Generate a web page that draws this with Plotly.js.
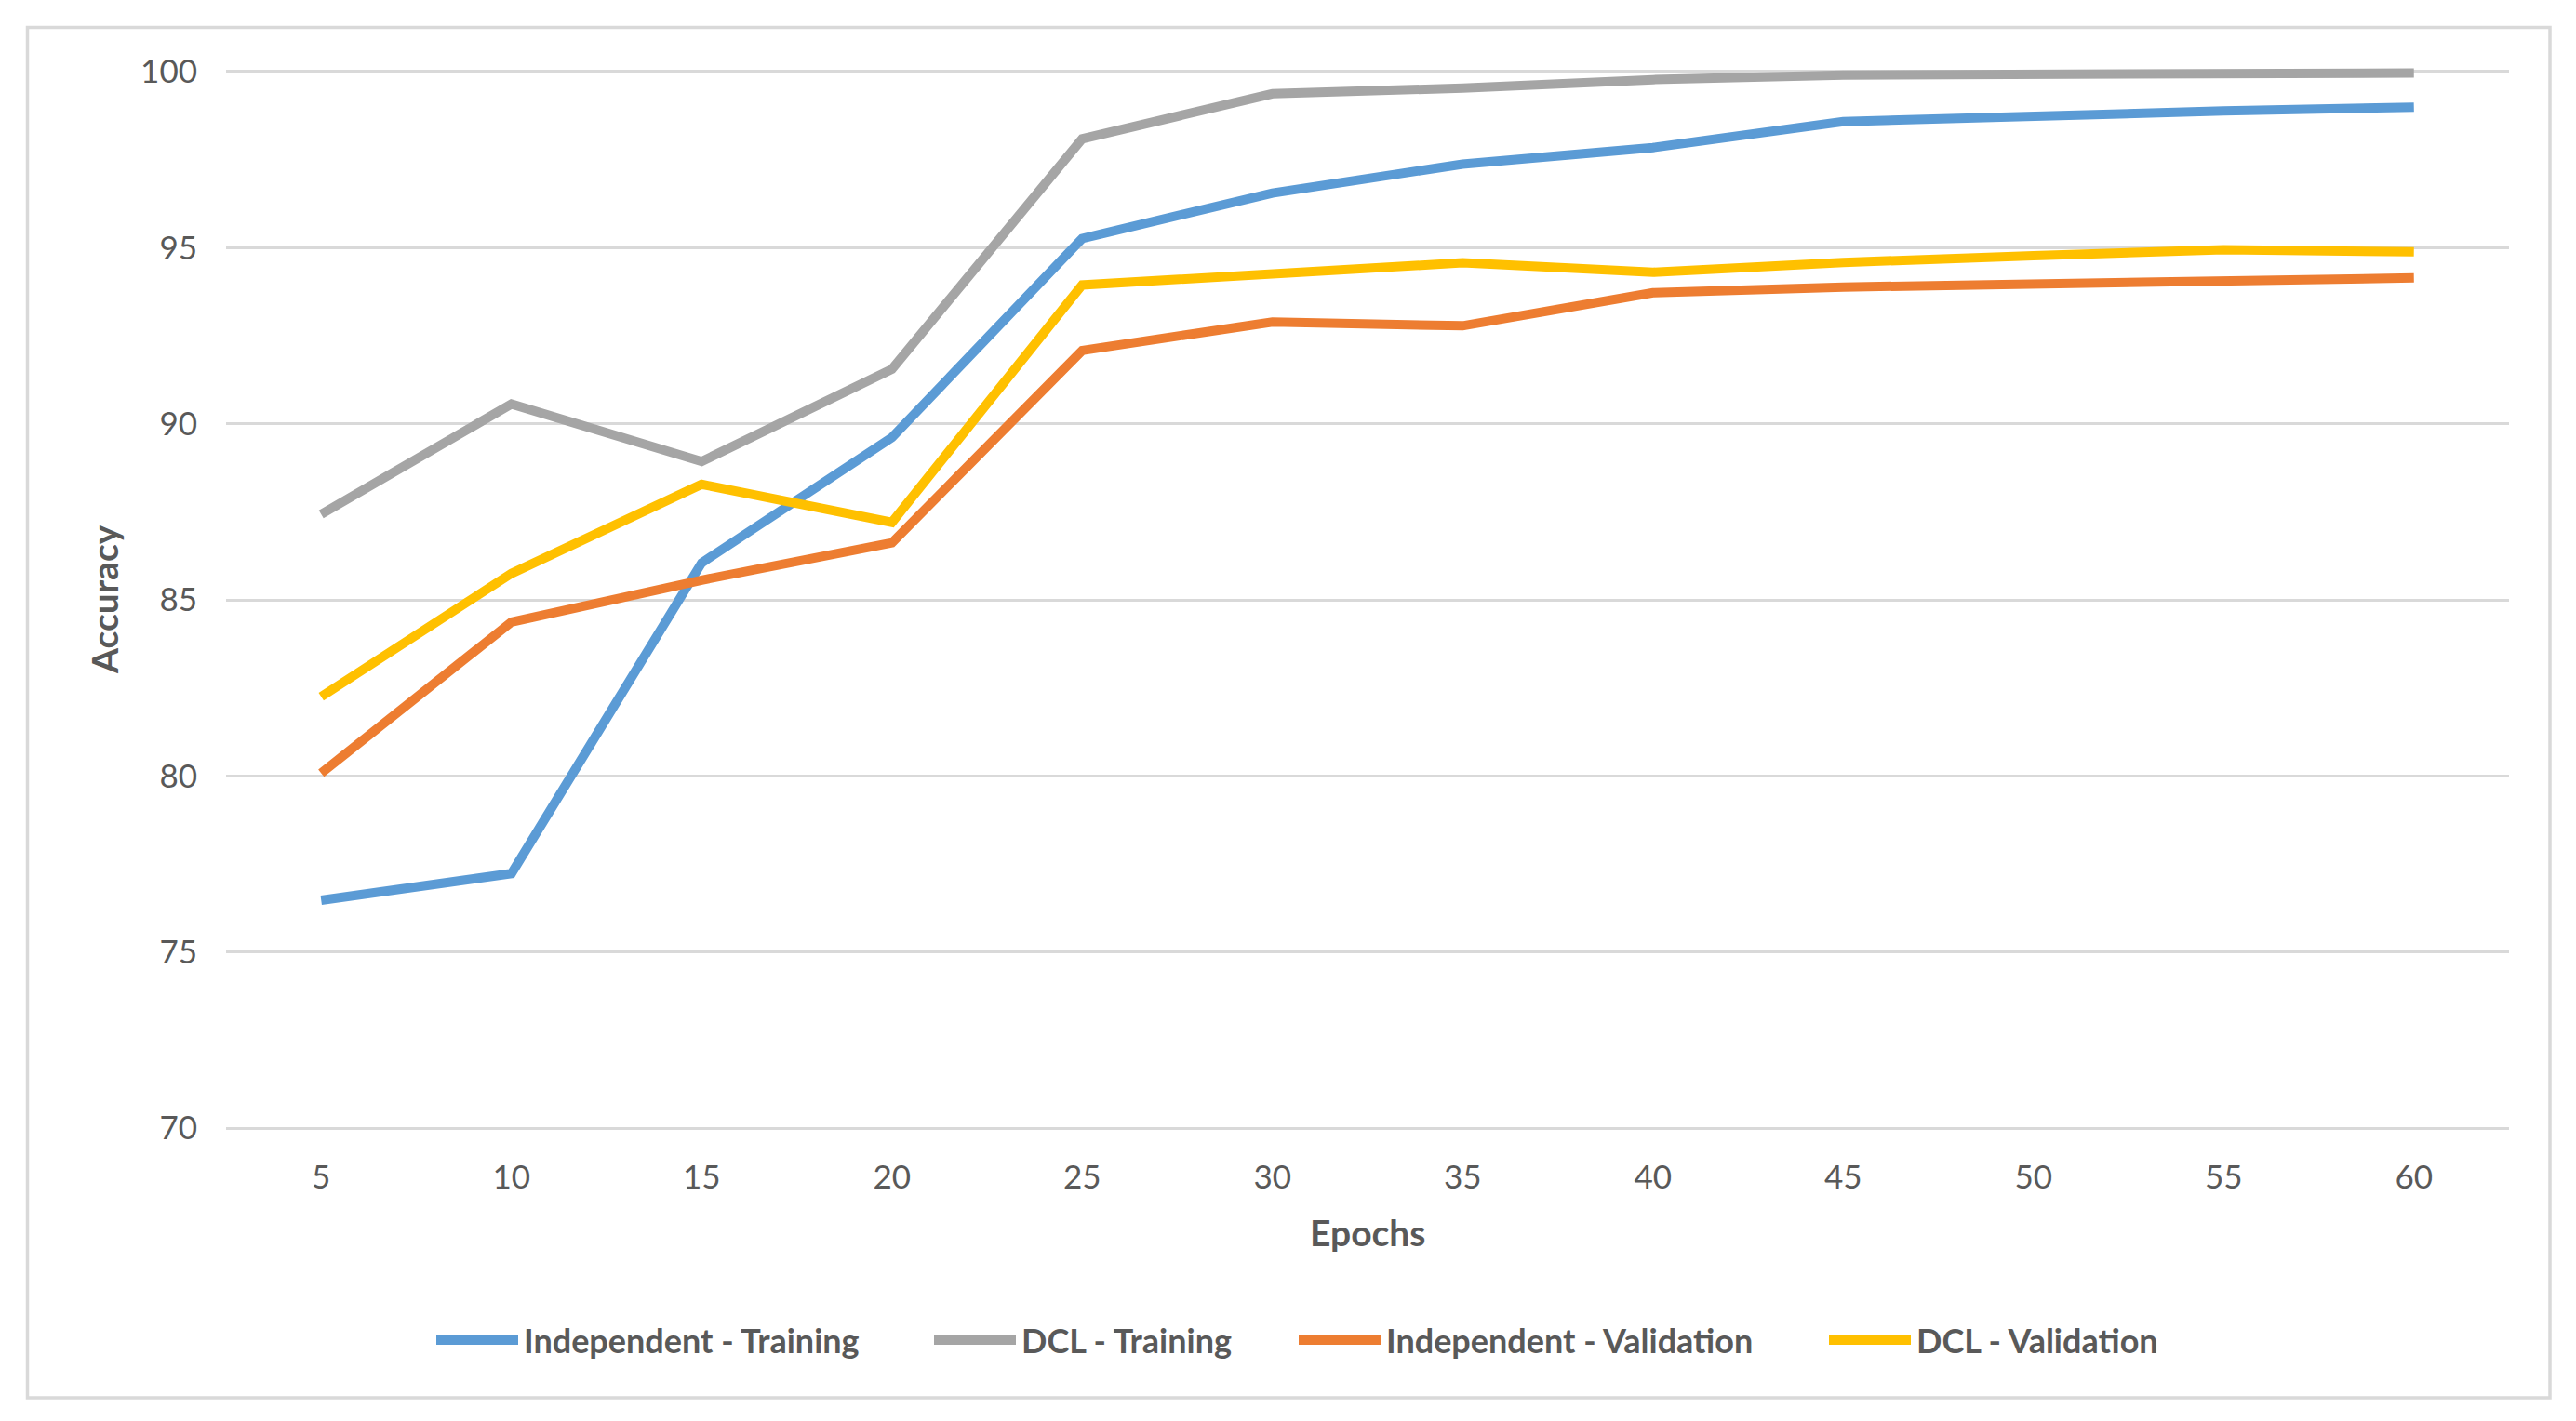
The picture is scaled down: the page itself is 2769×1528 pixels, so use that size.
<!DOCTYPE html>
<html>
<head>
<meta charset="utf-8">
<script src="https://cdn.plot.ly/plotly-3.0.1.min.js"></script>
<style>
  html, body { margin: 0; padding: 0; background: #fff; }
  #chart { width: 2769px; height: 1528px; }
</style>
</head>
<body>
<div id="chart"></div>
<script>
// epochs on the category axis
var epochs = ['5', '10', '15', '20', '25', '30', '35', '40', '45', '50', '55', '60'];

// accuracy per series
var indepTraining   = [76.47, 77.23, 86.05, 89.61, 95.26, 96.55, 97.37, 97.84, 98.58, 98.74, 98.88, 98.99];
var dclTraining     = [87.43, 90.56, 88.93, 91.55, 98.09, 99.37, 99.53, 99.77, 99.90, 99.93, 99.94, 99.96];
var indepValidation = [80.08, 84.37, 85.56, 86.62, 92.08, 92.89, 92.78, 93.72, 93.88, 93.98, 94.03, 94.14];
var dclValidation   = [82.25, 85.75, 88.28, 87.20, 93.94, 94.23, 94.57, 94.30, 94.58, 94.77, 94.94, 94.88];

var seriesNames  = ['Independent - Training', 'DCL - Training', 'Independent - Validation', 'DCL - Validation'];
var seriesValues = [indepTraining, dclTraining, indepValidation, dclValidation];
var seriesColors = ['#5B9BD5', '#A5A5A5', '#ED7D31', '#FFC000'];

var yTicks = [70, 75, 80, 85, 90, 95, 100];

// page geometry (px)
var W = 2769, H = 1528;
var M = {l: 243, r: 72, t: 57.6, b: 296};
var plotW = W - M.l - M.r, plotH = H - M.t - M.b;
function px2x(px) { return (px - M.l) / plotW; }
function px2y(py) { return (H - M.b - py) / plotH; }

var textColor = '#595959';
var fontFam = 'Lato, "Open Sans", "DejaVu Sans", sans-serif';

var traces = seriesNames.map(function(name, i) {
	return {
		type: 'scatter',
		mode: 'lines',
		name: name,
		x: epochs,
		y: seriesValues[i],
		line: {color: seriesColors[i], width: 10},
		showlegend: false,
		hoverinfo: 'x+y+name'
	};
});

// hand-made legend, Excel style long line samples
var legendLeft = [469, 1004, 1396, 1966];
var legendY = 1441;
var shapes = [{
	type: 'rect', xref: 'paper', yref: 'paper', layer: 'below',
	x0: px2x(29.5), x1: px2x(2741), y0: px2y(1503), y1: px2y(29),
	line: {color: '#D9D9D9', width: 3.5}, fillcolor: 'rgba(0,0,0,0)'
}];
var annotations = [];

seriesNames.forEach(function(name, i) {
	shapes.push({
		type: 'line', xref: 'paper', yref: 'paper',
		x0: px2x(legendLeft[i]), x1: px2x(legendLeft[i] + 88),
		y0: px2y(legendY), y1: px2y(legendY),
		line: {color: seriesColors[i], width: 10}
	});
	annotations.push({
		xref: 'paper', yref: 'paper', showarrow: false,
		x: px2x(legendLeft[i] + 92), y: px2y(legendY),
		xanchor: 'left', yanchor: 'middle',
		text: '<b>' + name + '</b>',
		font: {family: fontFam, size: 36, color: textColor}
	});
});

// axis titles
annotations.push({
	xref: 'paper', yref: 'paper', showarrow: false,
	x: px2x(112), y: 0.5, xanchor: 'center', yanchor: 'middle',
	textangle: -90, text: '<b>Accuracy</b>',
	font: {family: fontFam, size: 39, color: textColor}
});
annotations.push({
	xref: 'paper', yref: 'paper', showarrow: false,
	x: 0.5, y: px2y(1325), xanchor: 'center', yanchor: 'middle',
	text: '<b>Epochs</b>',
	font: {family: fontFam, size: 39, color: textColor}
});

var layout = {
	width: W,
	height: H,
	margin: M,
	paper_bgcolor: '#fff',
	plot_bgcolor: '#fff',
	showlegend: false,
	font: {family: fontFam, color: textColor},
	xaxis: {
		type: 'category',
		range: [-0.5, epochs.length - 0.5],
		showgrid: false,
		zeroline: false,
		showline: false,
		ticks: '',
		ticklabelstandoff: 10,
		tickfont: {family: fontFam, size: 35, color: textColor}
	},
	yaxis: {
		range: [69.5, 100.5],
		tickvals: yTicks,
		ticktext: yTicks.map(String),
		showgrid: true,
		gridcolor: '#D9D9D9',
		gridwidth: 3,
		zeroline: false,
		showline: false,
		ticks: '',
		ticklabelstandoff: 30,
		tickfont: {family: fontFam, size: 35, color: textColor}
	},
	shapes: shapes,
	annotations: annotations
};

Plotly.newPlot('chart', traces, layout, {displayModeBar: false, staticPlot: true});
</script>
</body>
</html>
